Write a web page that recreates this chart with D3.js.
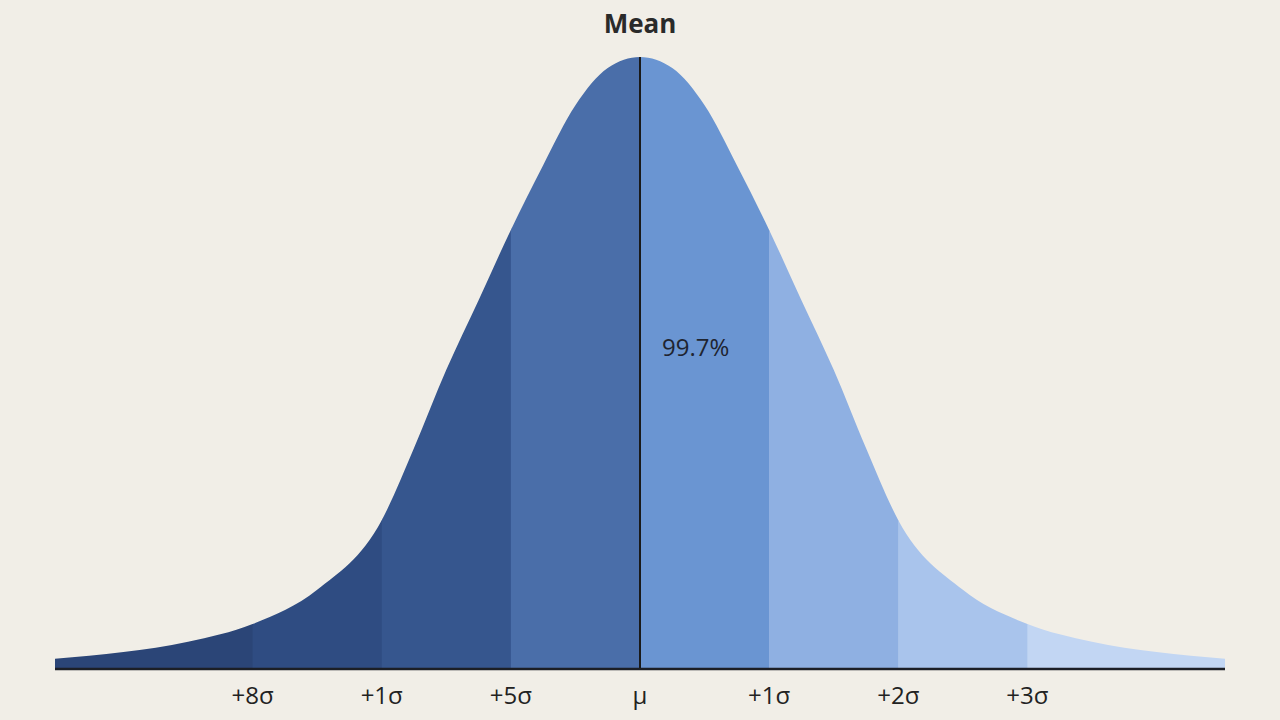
<!DOCTYPE html>
<html>
<head>
<meta charset="utf-8">
<script src="https://cdn.jsdelivr.net/npm/d3@7"></script>
<style>
  body { margin: 0; background: #f1eee7; }
  svg { display: block; font-family: "Open Sans", "DejaVu Sans", sans-serif; }
</style>
</head>
<body>
<svg id="chart" width="1280" height="720"></svg>
<script>
// curve profile: distance from mean (in sigma) and height (share of peak)
var profileZ = [0, 0.25, 0.5, 0.75, 1, 1.25, 1.5, 1.75, 2, 2.5, 3, 3.5, 4, 4.53];
var profileH = [1, 0.982, 0.921, 0.823, 0.717, 0.602, 0.488, 0.36, 0.242, 0.128, 0.072, 0.043, 0.026, 0.015];

// bands between boundaries (sigma) and their colours
var bandEdges = [-4.53, -3, -2, -1, 0, 1, 2, 3, 4.53];
var bandColors = ["#2b4577", "#2f4c82", "#36568e", "#4a6ea9", "#6a95d2", "#8fb0e2", "#a9c4ec", "#c2d6f3"];

var tickPos = [-3, -2, -1, 0, 1, 2, 3];
var tickLabels = ["+8σ", "+1σ", "+5σ", "μ", "+1σ", "+2σ", "+3σ"];

var svg = d3.select("#chart");

var x = d3.scaleLinear().domain([-4.53, 4.53]).range([55, 1225]);
var y = d3.scaleLinear().domain([0, 1]).range([668, 57]);

// build symmetric point list
var pts = [];
for (var i = profileZ.length - 1; i > 0; i--) pts.push([-profileZ[i], profileH[i]]);
profileZ.forEach(function(z, i) { pts.push([z, profileH[i]]); });

var area = d3.area()
  .x(function(d) { return x(d[0]); })
  .y0(y(0))
  .y1(function(d) { return y(d[1]); })
  .curve(d3.curveMonotoneX);

svg.append("clipPath").attr("id", "bell")
  .append("path").attr("d", area(pts));

var g = svg.append("g").attr("clip-path", "url(#bell)");
bandColors.forEach(function(c, i) {
  g.append("rect")
    .attr("x", x(bandEdges[i]))
    .attr("y", 0)
    .attr("width", x(bandEdges[i + 1]) - x(bandEdges[i]) + 0.5)
    .attr("height", y(0))
    .attr("fill", c);
});

// mean line
svg.append("line")
  .attr("x1", x(0)).attr("x2", x(0))
  .attr("y1", y(1)).attr("y2", y(0))
  .attr("stroke", "#1a1a1a").attr("stroke-width", 2);

// baseline
svg.append("line")
  .attr("x1", x(-4.53)).attr("x2", x(4.53))
  .attr("y1", y(0) + 1).attr("y2", y(0) + 1)
  .attr("stroke", "#1c1f26").attr("stroke-width", 2.5);

svg.selectAll(".tick")
  .data(tickPos)
  .enter().append("text")
  .attr("x", function(d) { return x(d); })
  .attr("y", 704)
  .attr("text-anchor", "middle")
  .attr("font-size", 24)
  .attr("fill", "#222")
  .text(function(d, i) { return tickLabels[i]; });

svg.append("text")
  .attr("x", x(0)).attr("y", 33)
  .attr("text-anchor", "middle")
  .attr("font-size", 26).attr("font-weight", "bold")
  .attr("fill", "#2a2a2a")
  .text("Mean");

svg.append("text")
  .attr("x", x(0) + 22).attr("y", 356)
  .attr("font-size", 24)
  .attr("fill", "#1e2430")
  .text("99.7%");
</script>
</body>
</html>
